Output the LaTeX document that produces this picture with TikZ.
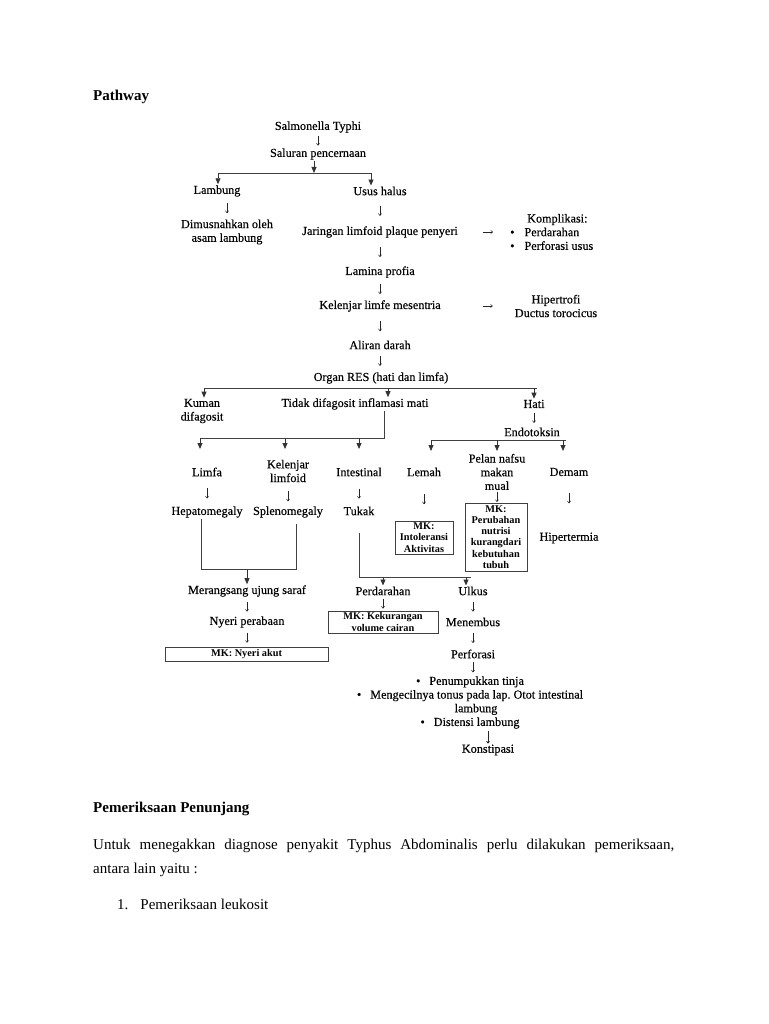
\documentclass[tikz,border=0pt]{standalone}
\usepackage{fontspec}
\setmainfont{Liberation Serif}
\newfontfamily\dgfamily{Liberation Serif}[FakeBold=0.3]
\usetikzlibrary{arrows.meta}
\usetikzlibrary{calc}
\usetikzlibrary{positioning}

\newcommand{\dgfont}{\dgfamily\fontsize{12.2}{13.7}\selectfont\frenchspacing}
\newcommand{\mkfont}{\fontsize{10.3}{11.2}\selectfont\bfseries}
\newcommand{\bodyfont}{\fontsize{15}{24.5}\selectfont}

\tikzset{
  lbl/.style={font=\dgfont, inner sep=1pt, align=center},
  mkbox/.style={draw=black!75, line width=0.7pt, font=\mkfont, align=center, inner sep=1pt},
  tarr/.style={draw=black!85, line width=0.55pt, -{To[length=2.5pt,width=3.5pt]}},
  barr/.style={draw=black!80, line width=0.8pt, -{Triangle[length=6pt,width=5pt]}},
  bus/.style={draw=black!75, line width=0.8pt},
}
% small text-like arrows between two nodes, optional offset (dx,dy)
\newcommand{\darr}[3][0,0]{\draw[tarr] ($(#2.south)!.5!(#2.south |- #3.north)+(0,-5)+(#1)$) -- ++(0,10);}
\newcommand{\rarr}[3][0,0]{\draw[tarr] ($(#2.east)!.5!(#3.west |- #2.east)+(-5,0)+(#1)$) -- ++(10,0);}

\begin{document}
\begin{tikzpicture}[x=1pt, y=-1pt]
    \fill[white] (0,0) rectangle (768,1024);
    \useasboundingbox (0,0) rectangle (768,1024);

    \node[font=\bodyfont\bfseries, anchor=west, inner sep=0pt] (title) at (93,97) {Pathway};

    \node[lbl] (salm) at (318,127) {Salmonella Typhi};
    \node[lbl] (salu) at (318,154) {Saluran pencernaan};
    \node[lbl] (lamb) at (217,191) {Lambung};
    \node[lbl] (usus) at (380,191) {Usus halus};
    \node[lbl] (dimus) at (227,232) {Dimusnahkan oleh\\asam lambung};
    \node[lbl] (jar) at (380,232) {Jaringan limfoid plaque penyeri};
    \node[lbl, align=left, anchor=west] (kompl) at (509,232) {\hspace*{17pt}Komplikasi:\\\textbullet\hspace{10pt}Perdarahan\\\textbullet\hspace{10pt}Perforasi usus};
    \node[lbl] (lam) at (380,272) {Lamina profia};
    \node[lbl] (kel) at (380,306) {Kelenjar limfe mesentria};
    \node[lbl] (hip) at (556,306) {Hipertrofi\\Ductus torocicus};
    \node[lbl] (alir) at (380,345) {Aliran darah};
    \node[lbl] (res) at (381,378) {Organ RES (hati dan limfa)};

    \node[lbl] (kuman) at (202,411) {Kuman\\difagosit};
    \node[lbl] (tidak) at (355,404) {Tidak difagosit inflamasi mati};
    \node[lbl] (hati) at (534,404) {Hati};
    \node[lbl] (endo) at (532,432) {Endotoksin};

    \node[lbl] (limfa) at (207,472) {Limfa};
    \node[lbl] (klim) at (288,471) {Kelenjar\\limfoid};
    \node[lbl] (intes) at (359,472) {Intestinal};
    \node[lbl] (lemah) at (424,472) {Lemah};
    \node[lbl] (pelan) at (497,472) {Pelan nafsu\\makan\\mual};
    \node[lbl] (demam) at (569,472) {Demam};

    \node[lbl] (hepa) at (207,512) {Hepatomegaly};
    \node[lbl] (splen) at (288,512) {Splenomegaly};
    \node[lbl] (tukak) at (359,511) {Tukak};
    \node[mkbox, minimum width=58pt, minimum height=33pt] (intol) at (424,537.5) {MK:\\Intoleransi\\Aktivitas};
    \node[mkbox, minimum width=62pt, minimum height=68pt] (nutri) at (496,537) {MK:\\Perubahan\\nutrisi\\kurangdari\\kebutuhan\\tubuh};
    \node[lbl] (hiper) at (569,538) {Hipertermia};

    \node[lbl] (meran) at (247,591) {Merangsang ujung saraf};
    \node[lbl] (nyeri) at (247,622) {Nyeri perabaan};
    \node[mkbox, minimum width=163pt, minimum height=14pt] (akut) at (246.5,654) {MK: Nyeri akut};
    \node[lbl] (perd) at (383,591) {Perdarahan};
    \node[lbl] (ulkus) at (473,591) {Ulkus};
    \node[mkbox, minimum width=110pt, minimum height=22pt] (kekur) at (383,622) {MK: Kekurangan\\volume cairan};
    \node[lbl] (menem) at (473,622) {Menembus};
    \node[lbl] (perfo) at (473,654) {Perforasi};
    \node[lbl] (tanda) at (470,702.5) {\textbullet\hspace{9pt}Penumpukkan tinja\\\textbullet\hspace{9pt}Mengecilnya tonus pada lap. Otot intestinal\\\hspace*{12pt}lambung\\\textbullet\hspace{9pt}Distensi lambung};
    \node[lbl] (konst) at (488,750) {Konstipasi};

    % thin arrows
    \darr{salm}{salu}
    \darr[10,0]{lamb}{dimus}
    \darr{usus}{jar}
    \rarr[4,0]{jar}{kompl}
    \darr{jar}{lam}
    \darr{lam}{kel}
    \rarr[10,0]{kel}{hip}
    \darr{kel}{alir}
    \darr{alir}{res}
    \darr{hati}{endo}
    \darr[0,2]{limfa}{hepa}
    \darr[0,2]{klim}{splen}
    \darr[0,2]{intes}{tukak}
    \darr{lemah}{intol}
    \darr{pelan}{nutri}
    \darr[0,-6]{demam}{hiper}
    \darr{meran}{nyeri}
    \darr{nyeri}{akut}
    \darr{perd}{kekur}
    \darr{ulkus}{menem}
    \darr{menem}{perfo}
    \darr{perfo}{tanda}
    \draw[tarr, line width=1pt] ($(konst.north)+(0,-12)$) -- (konst.north);

    % branch lines
    \coordinate (sL) at (218,173);
    \coordinate (sR) at (371,173);
    \draw[barr] (salu.south -| 314,0) -- (314,173);
    \draw[bus] (sL) -- (sR);
    \draw[barr] (sL) -- (sL |- lamb.north);
    \draw[barr] (sR) -- (sR |- usus.north);

    \coordinate (rL) at (204,388);
    \coordinate (rM) at (388,388);
    \coordinate (rR) at (534,388);
    \draw[bus] (rL) -- ([xshift=3pt]rR);
    \draw[barr] (rL) -- (rL |- kuman.north);
    \draw[barr] (rM) -- (rM |- tidak.north);
    \draw[barr] (rR) -- (hati.north);

    \coordinate (tK) at (384,438);
    \coordinate (tL) at (200,438);
    \draw[bus] (tidak.south -| tK) -- (tK) -- (tL);
    \draw[barr] (tL) -- ++(0,11);
    \draw[barr] (klim.north |- tL) ++(-3,0) -- ++(0,11);
    \draw[barr] (intes.north |- tL) -- ++(0,11);

    \coordinate (eL) at (431,440);
    \coordinate (eR) at (563,440);
    \draw[bus] (eL) -- ([xshift=3pt]eR);
    \draw[barr] (eL) -- ++(0,11);
    \draw[barr] (pelan.north |- eL) -- ++(0,11);
    \draw[barr] (eR) -- ++(0,11);

    \coordinate (hJ) at (201,569);
    \coordinate (sJ) at (296,569);
    \draw[bus] (hepa.south -| hJ) -- (hJ) -- (sJ) -- ([yshift=-5pt]splen.south -| sJ);
    \draw[barr] (meran.north |- hJ) -- (meran.north);

    \coordinate (tJ) at (359,577);
    \coordinate (tR) at (471,577);
    \draw[bus] ([yshift=-17pt]tukak.south) -- (tJ) -- (tR);
    \draw[barr] (perd.north |- tJ) -- (perd.north);
    \draw[barr] ([xshift=-7pt]ulkus.north |- tJ) -- ([xshift=-7pt]ulkus.north);

    % text below the pathway
    \node[font=\bodyfont\bfseries, anchor=west, inner sep=0pt] (penun) at (93,809) {Pemeriksaan Penunjang};
    \node[font=\bodyfont, anchor=north west, align=left, inner sep=0pt] (untuk) at (93,838.5) {\makebox[581pt][s]{Untuk menegakkan diagnose penyakit Typhus Abdominalis perlu dilakukan pemeriksaan,}\\antara lain yaitu :};
    \node[font=\bodyfont, anchor=west, inner sep=0pt] (leuk) at (117,904) {1.\hspace{12pt}Pemeriksaan leukosit};
\end{tikzpicture}
\end{document}
